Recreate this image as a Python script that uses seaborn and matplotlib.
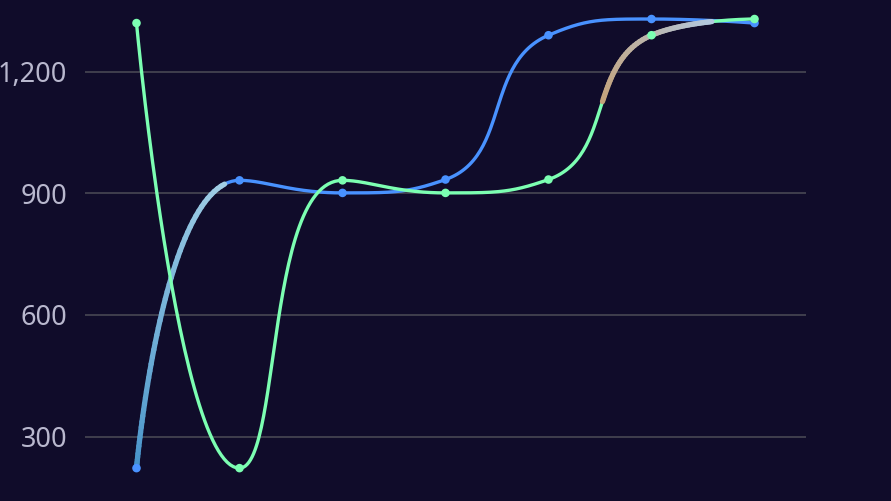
import numpy as np
import pandas as pd
import matplotlib
matplotlib.use("Agg")
import matplotlib.pyplot as plt
from matplotlib.collections import LineCollection
from matplotlib.colors import to_rgb
import seaborn as sns

# chart values
categories = ["Mon", "Tue", "Wed", "Thu", "Fri", "Sat", "Sun"]
blue_values = [222, 932, 901, 934, 1290, 1330, 1320]
green_values = [1320, 222, 932, 901, 934, 1290, 1330]
tick_values = [300, 600, 900, 1200]
tick_labels = ["300", "600", "900", "1,200"]

BG = "#100c2a"
BLUE = "#4992ff"
GREEN = "#7cffb2"

sns.set_theme(style="dark")
plt.rcParams["font.family"] = ["Noto Sans", "DejaVu Sans"]

fig = plt.figure(figsize=(8.91, 5.01), dpi=100, facecolor=BG)
ax = fig.add_axes([85 / 891, 0, 721 / 891, 1])
ax.set_facecolor(BG)
ax.set_xlim(-0.5, 6.5)
ax.set_ylim(140.9, 1376.9)
for s in ax.spines.values():
    s.set_visible(False)
ax.set_xticks([])
ax.set_yticks(tick_values)
ax.set_yticklabels(tick_labels, color="#b9b8ce", fontsize=19.5)
ax.tick_params(axis="y", length=0, pad=13)
ax.grid(False)
for t in tick_values:
    ax.axhline(t, color="#484753", lw=1.2, zorder=1)


def smooth_curve(xs, ys, smooth=0.5, n=60):
    # echarts style smoothing, done in pixel space
    pts = ax.transData.transform(np.column_stack([xs, ys]))
    out = [pts[0]]
    cp0 = pts[0]
    for i in range(1, len(pts)):
        x, y = pts[i]
        px, py = pts[i - 1]
        if i == len(pts) - 1:
            cp1 = np.array([x, y])
            ncp0 = None
        else:
            nx, ny = pts[i + 1]
            vx, vy = nx - px, ny - py
            lp = np.hypot(x - px, y - py)
            ln = np.hypot(nx - x, ny - y)
            r = ln / (ln + lp)
            ncx = x + vx * smooth * r
            ncy = y + vy * smooth * r
            ncx = max(min(ncx, max(nx, x)), min(nx, x))
            ncy = max(min(ncy, max(ny, y)), min(ny, y))
            vx, vy = ncx - x, ncy - y
            c1x = x - vx * lp / ln
            c1y = y - vy * lp / ln
            c1x = max(min(c1x, max(px, x)), min(px, x))
            c1y = max(min(c1y, max(py, y)), min(py, y))
            vx, vy = x - c1x, y - c1y
            ncp0 = np.array([x + vx * ln / lp, y + vy * ln / lp])
            cp1 = np.array([c1x, c1y])
        t = np.linspace(0, 1, n)[1:, None]
        p0 = pts[i - 1]
        seg = ((1 - t) ** 3) * p0 + 3 * ((1 - t) ** 2) * t * cp0 + 3 * (1 - t) * t ** 2 * cp1 + t ** 3 * pts[i]
        out.extend(seg)
        cp0 = ncp0
    out = np.array(out)
    return ax.transData.inverted().transform(out)


def trail(curve, x0, x1, c_tail, c_head, z):
    m = (curve[:, 0] >= x0) & (curve[:, 0] <= x1)
    p = curve[m]
    segs = np.stack([p[:-1], p[1:]], axis=1)
    f = np.linspace(0, 1, len(segs))[:, None]
    cols = (1 - f) * np.array(to_rgb(c_tail)) + f * np.array(to_rgb(c_head))
    lc = LineCollection(segs, colors=cols, linewidths=3.8, capstyle="round", zorder=z)
    ax.add_collection(lc)


xs = np.arange(len(categories))
blue_curve = smooth_curve(xs, blue_values)
green_curve = smooth_curve(xs, green_values)

bdf = pd.DataFrame({"x": blue_curve[:, 0], "y": blue_curve[:, 1]})
gdf = pd.DataFrame({"x": green_curve[:, 0], "y": green_curve[:, 1]})

sns.lineplot(data=bdf, x="x", y="y", sort=False, estimator=None, color=BLUE, lw=2.4, ax=ax, zorder=2)
trail(blue_curve, 0, 0.865, "#3c8cc6", "#a2cfe6", 3)
sns.scatterplot(x=xs, y=blue_values, color=BLUE, s=38, edgecolor="none", ax=ax, zorder=4, clip_on=False)

sns.lineplot(data=gdf, x="x", y="y", sort=False, estimator=None, color=GREEN, lw=2.4, ax=ax, zorder=5)
trail(green_curve, 4.52, 5.6, "#c4a27a", "#b3c9de", 6)
sns.scatterplot(x=xs, y=green_values, color=GREEN, s=38, edgecolor="none", ax=ax, zorder=7, clip_on=False)

ax.set_xlabel("")
ax.set_ylabel("")
ax.set_xlim(-0.5, 6.5)
ax.set_ylim(140.9, 1376.9)

fig.savefig("out.png", dpi=100, facecolor=BG)
